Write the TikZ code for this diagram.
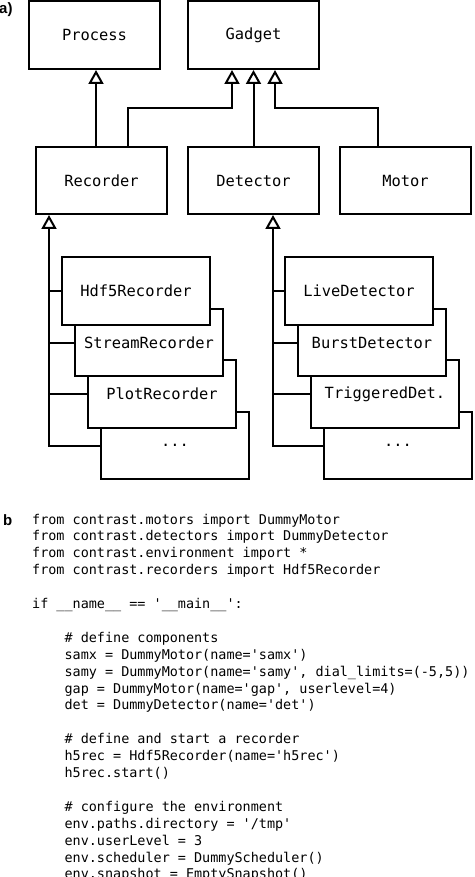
\documentclass[tikz,border=0pt]{standalone}
\usepackage{fontspec}
\setmonofont{DejaVu Sans Mono}
\newfontfamily\labelsans{Liberation Sans}
\usepackage{tikz}
\usetikzlibrary{positioning, arrows.meta, calc}
\newcommand{\q}{\textquotesingle}

\begin{document}
\begin{tikzpicture}[x=1pt, y=1pt,
  classbox/.style={rectangle, draw=black, line width=2pt, fill=white,
              minimum width=131pt, minimum height=68pt, inner sep=0pt,
              font=\ttfamily\fontsize{15.4}{18}\selectfont},
  subbox/.style={classbox, minimum width=148pt, minimum height=67.5pt},
  inh/.style={line width=2pt, -{Triangle[open, length=14pt, width=15pt]}},
  tick/.style={line width=2pt},
  codeline/.style={anchor=base west, inner sep=0pt,
              font=\ttfamily\fontsize{13.45}{16.9}\selectfont},
  panel/.style={anchor=base west, inner sep=0pt,
              font=\labelsans\bfseries\fontsize{15}{18}\selectfont},
]
  \path[fill=white, use as bounding box] (0,0) rectangle (474,-877);

  \coordinate (bus)   at (0, -108);
  \coordinate (rrail) at (49, 0);
  \coordinate (drail) at (273, 0);

  % base classes
  \node[classbox] (process) at (94.5, -35) {Process};
  \node[classbox] (gadget)  at (253.5, -35) {Gadget};

  \node[classbox, minimum height=67pt] (recorder) at (101.5, -180.5) {Recorder};
  \node[classbox, minimum height=67pt, right=19pt of recorder] (detector) {Detector};
  \node[classbox, minimum height=67pt, right=19pt of detector] (motor) {Motor};

  \draw[inh] ([xshift=-5.5pt]recorder.north) -- ([xshift=-5.5pt]recorder.north |- process.south);
  \draw[inh] ([xshift=26.5pt]recorder.north) -- ([xshift=26.5pt]recorder.north |- bus)
             -| ([xshift=-21.5pt]gadget.south);
  \draw[inh] (detector.north) -- (gadget.south);
  \draw[inh] ([xshift=-28pt]motor.north) -- ([xshift=-28pt]motor.north |- bus)
             -| ([xshift=21.5pt]gadget.south);

  % recorder subclasses (back to front)
  \coordinate (rstack) at (136, -291);
  \node[subbox] at ($(rstack) + (39, -154.5)$) (rdots)   {...};
  \node[subbox] at ($(rstack) + (26, -103)$)   (rplot)   {PlotRecorder};
  \node[subbox] at ($(rstack) + (13, -51.5)$)  (rstream) {StreamRecorder};
  \node[subbox] at (rstack)                    (rhdf)    {Hdf5Recorder};

  \draw[inh] (rdots.west) -| (rrail |- recorder.south);
  \draw[tick] (rplot.west)   -- (rplot.west -| rrail);
  \draw[tick] (rstream.west) -- (rstream.west -| rrail);
  \draw[tick] (rhdf.west)    -- (rhdf.west -| rrail);

  % detector subclasses (back to front)
  \coordinate (dstack) at (359, -291);
  \node[subbox] at ($(dstack) + (39, -154.5)$) (ddots)  {...};
  \node[subbox] at ($(dstack) + (26, -103)$)   (dtrig)  {TriggeredDet.};
  \node[subbox] at ($(dstack) + (13, -51.5)$)  (dburst) {BurstDetector};
  \node[subbox] at (dstack)                    (dlive)  {LiveDetector};

  \draw[inh] (ddots.west) -| (drail |- detector.south);
  \draw[tick] (dtrig.west)  -- (dtrig.west -| drail);
  \draw[tick] (dburst.west) -- (dburst.west -| drail);
  \draw[tick] (dlive.west)  -- (dlive.west -| drail);

  % panel letters
  \node[panel] (lbla) at (-1, -14) {a)};
  \node[panel] (lblb) at (3, -525) {b};

  % code listing, one node per line
  \foreach \i/\lx/\txt in {
      0/32/{from contrast.motors import DummyMotor},
      1/32/{from contrast.detectors import DummyDetector},
      2/32/{from contrast.environment import *},
      3/32/{from contrast.recorders import Hdf5Recorder},
      5/32/{if \_\_name\_\_ == \q\_\_main\_\_\q:},
      7/64.4/{\# define components},
      8/64.4/{samx = DummyMotor(name=\q samx\q)},
      9/64.4/{samy = DummyMotor(name=\q samy\q, dial\_limits=(-5,5))},
      10/64.4/{gap = DummyMotor(name=\q gap\q, userlevel=4)},
      11/64.4/{det = DummyDetector(name=\q det\q)},
      13/64.4/{\# define and start a recorder},
      14/64.4/{h5rec = Hdf5Recorder(name=\q h5rec\q)},
      15/64.4/{h5rec.start()},
      17/64.4/{\# configure the environment},
      18/64.4/{env.paths.directory = \q/tmp\q},
      19/64.4/{env.userLevel = 3},
      20/64.4/{env.scheduler = DummyScheduler()},
      21/64.4/{env.snapshot = EmptySnapshot()}}
    \node[codeline] (code\i) at (\lx, {-524 - 16.9*\i}) {\txt};
\end{tikzpicture}
\end{document}
